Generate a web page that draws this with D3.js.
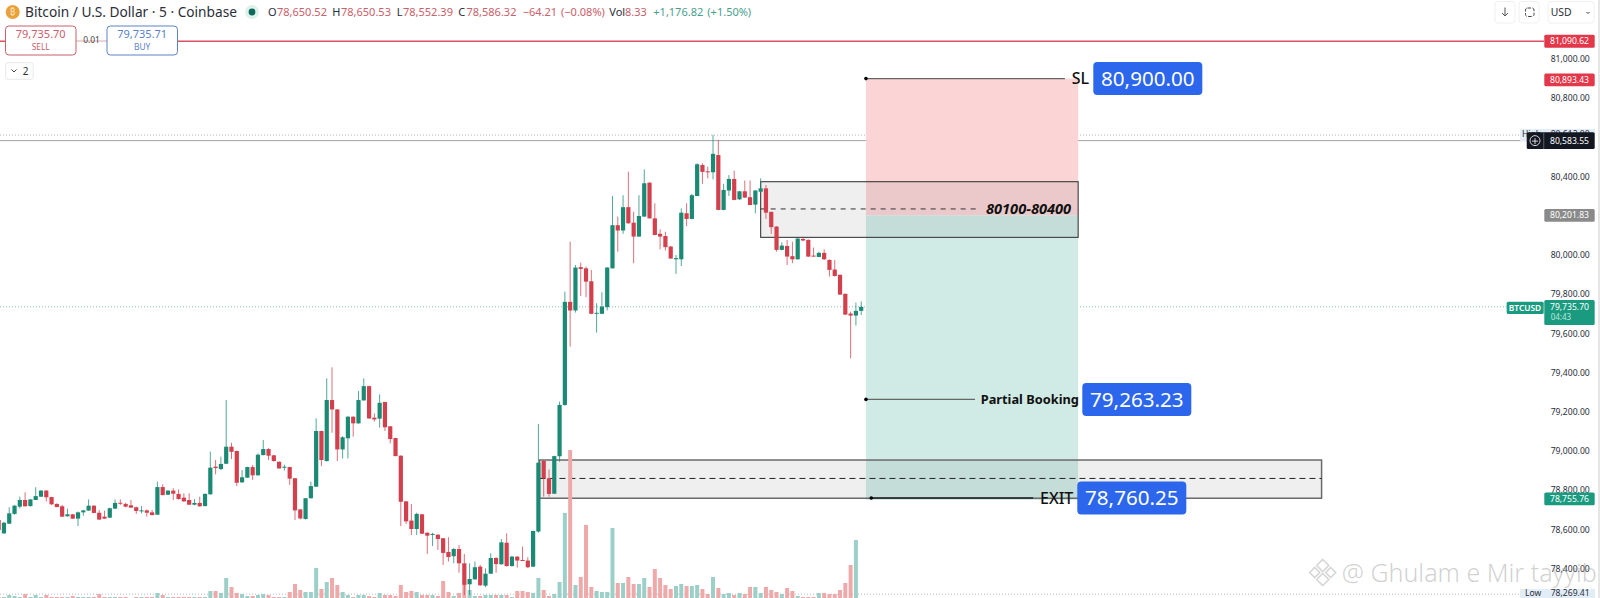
<!DOCTYPE html>
<html>
<head>
<meta charset="utf-8">
<script src="https://cdn.jsdelivr.net/npm/d3@7"></script>
<style>
  html, body { margin: 0; padding: 0; background: #fff; overflow: hidden; }
  svg { display: block; }
  text { font-family: "Noto Sans", sans-serif; }
</style>
</head>
<body>
<div id="chart"></div>
<script>
// 5 minute BTCUSD bars
var opens = [78648,
  78580,78629,78679,78716,78750,78719,78750,78767,78798,78765,
  78730,78718,78667,78677,78655,78687,78696,78721,78685,78665,
  78660,78706,78736,78730,78723,78713,78694,78697,78687,78675,
  78816,78777,78798,78781,78762,78750,78726,78735,78719,78779,
  78920,78908,78935,79022,79000,78840,78864,78918,78876,78979,
  79010,78978,78945,78915,78918,78861,78702,78653,78759,78818,
  79102,78949,79260,79212,79008,79065,79175,79141,79258,79331,
  79170,79165,79250,79126,79066,78976,78743,78645,78602,78677,
  78583,78572,78573,78555,78485,78463,78500,78427,78320,78345,
  78410,78313,78374,78454,78422,78532,78413,78461,78444,78441,
  78410,78589,78949,78861,78782,78973,79235,79761,79717,79938,
  79932,79866,79700,79700,79734,79932,80152,80125,80244,80165,
  80094,80196,80369,80187,80108,80097,80043,79978,79978,80213,
  80184,80301,80459,80427,80422,80510,80230,80329,80388,80284,
  80325,80295,80257,80323,80340,80220,80145,80026,80046,79994,
  79978,80082,80077,79997,79990,80011,79975,79926,79899,79802,
  79701,79691,79715];
var highs = [78656,
  78639,78713,78725,78767,78789,78755,78815,78801,78801,78767,
  78733,78725,78706,78679,78691,78699,78753,78723,78699,78696,
  78711,78753,78753,78736,78750,78716,78719,78702,78699,78844,
  78830,78799,78810,78804,78784,78784,78755,78767,78784,78997,
  78954,78971,79260,79042,79002,78903,78920,78929,78988,79056,
  79014,78980,78947,78930,78920,78862,78704,78760,78844,79167,
  79104,79371,79427,79214,79076,79178,79177,79306,79371,79333,
  79192,79289,79251,79127,79068,78978,78745,78730,78685,78679,
  78585,78583,78575,78556,78560,78505,78520,78475,78427,78436,
  78419,78401,78478,78458,78551,78580,78466,78464,78512,78458,
  78594,79138,78954,78906,78976,79252,79813,80068,79949,79961,
  79941,79924,79754,79810,79938,80301,80196,80305,80425,80221,
  80305,80437,80371,80264,80131,80119,80046,80000,80238,80264,
  80312,80468,80468,80451,80613,80587,80363,80408,80431,80327,
  80380,80380,80332,80391,80357,80221,80147,80065,80077,80068,
  80085,80094,80080,80038,80017,80029,79977,79975,79900,79803,
  79711,79757,79763];
var lows = [78588,
  78577,78628,78675,78707,78716,78716,78750,78765,78742,78725,
  78713,78663,78665,78653,78617,78670,78694,78682,78648,78653,
  78658,78704,78725,78713,78709,78679,78682,78665,78672,78673,
  78774,78775,78750,78752,78741,78725,78723,78716,78718,78777,
  78881,78903,78934,78959,78821,78838,78862,78852,78874,78978,
  78954,78945,78910,78900,78827,78648,78651,78650,78757,78816,
  78923,78945,79093,78949,78962,78962,79073,79139,79257,79165,
  79150,79119,79102,79039,78973,78617,78628,78571,78571,78577,
  78475,78515,78495,78419,78436,78427,78379,78265,78265,78344,
  78311,78305,78373,78379,78420,78410,78410,78405,78439,78403,
  78408,78583,78767,78767,78781,78945,79230,79533,79706,79791,
  79785,79698,79604,79698,79717,79931,80017,80108,80159,79958,
  80092,80194,80186,80101,80029,80023,79980,79904,79944,80148,
  80182,80300,80363,80391,80386,80228,80228,80301,80279,80281,
  80291,80254,80213,80322,80184,80108,80017,80024,79949,79958,
  79977,80070,79990,79990,79989,79975,79890,79890,79796,79694,
  79473,79640,79694];
var closes = [78597,
  78634,78682,78721,78750,78718,78753,78770,78798,78764,78728,
  78714,78665,78677,78655,78687,78697,78721,78684,78650,78655,
  78708,78735,78731,78716,78711,78694,78697,78685,78673,78816,
  78775,78798,78782,78755,78743,78726,78735,78718,78781,78915,
  78913,78934,79022,78996,78838,78866,78918,78876,78981,79010,
  78976,78949,78911,78920,78859,78697,78656,78759,78821,79102,
  78954,79260,79212,79008,79070,79175,79141,79260,79331,79166,
  79161,79246,79121,79061,78974,78741,78641,78602,78679,78578,
  78568,78577,78551,78480,78459,78500,78427,78317,78347,78407,
  78315,78374,78454,78423,78534,78413,78461,78441,78439,78407,
  78592,78940,78861,78781,78974,79235,79761,79717,79936,79929,
  79864,79700,79705,79737,79936,80152,80125,80244,80162,80094,
  80199,80366,80187,80102,80094,80040,79982,79984,80216,80184,
  80305,80463,80424,80422,80516,80230,80332,80388,80281,80325,
  80293,80255,80329,80340,80216,80142,80026,80048,79992,79978,
  80084,80074,79992,79992,80011,79978,79924,79893,79798,79696,
  79691,79715,79735.7];
var volumes = [3,
  3,5,4,3,6,3,5,3,5,3,
  3,3,3,4,3,3,3,3,6,3,
  3,3,3,3,2,3,3,3,3,7,
  5,3,3,3,3,3,3,3,3,9,
  9,7,22,13,7,6,4,4,5,6,
  5,3,3,3,8,16,10,8,8,32,
  11,18,22,15,8,5,3,5,5,4,
  3,7,5,5,4,15,8,9,8,5,
  5,5,4,19,8,4,7,15,10,4,
  4,5,5,5,5,5,3,9,9,8,
  7,22,10,4,6,18,87,150,15,23,
  75,13,9,8,8,72,17,17,23,16,
  16,22,13,31,22,15,11,14,16,14,
  14,15,11,6,23,12,6,7,5,7,
  6,13,13,7,13,10,8,6,12,9,
  4,3,3,3,7,7,6,6,10,17,
  35,60,2];

var priceTicks = [81000,80800,80400,80000,79800,79600,79400,79200,79000,78800,78600,78400];

// annotations, prices as on the chart, "from/to" in bar numbers
var slPrice = 80900, entryPrice = 80201.83, partialPrice = 79263.23, exitPrice = 78760.25;
var upperZone = [80090, 80374], upperMid = 80235;
var lowerZone = [78759, 78954], lowerMid = 78860;
var sellLine = 81090.62, highLine = 80612, crossLine = 80583.55, lastPrice = 79735.70, lowLine = 78269.41;

// 基本設定
var w = 1600, h = 598;
var green = "#1b8a74", red = "#d23f4d";
var volGreen = "#9dcfc9", volRed = "#eeaaaa";
var bodyW = 4.2, volW = 4;

var x = d3.scaleLinear().domain([0, opens.length - 1]).range([-1.35, 861.2]);
var y = d3.scaleLinear().domain([78400, 81000]).range([568.6, 59]);
var v = d3.scaleLinear().domain([0, 150]).range([600, 450]);
var fmt = d3.format(",.2f");

var svg = d3.select("#chart").append("svg").attr("width", w).attr("height", h);
svg.append("rect").attr("width", w).attr("height", h).attr("fill", "#fff");

// 水平線
function hline(price, x1, x2, color, width, dash) {
  svg.append("line")
    .attr("x1", x1).attr("x2", x2)
    .attr("y1", y(price)).attr("y2", y(price))
    .attr("stroke", color).attr("stroke-width", width)
    .attr("stroke-dasharray", dash || null);
}
hline(sellLine, 0, 1544, "#d9535f", 1.5);
hline(highLine, 0, 1522, "#aeb4b8", 1, "1 2");
hline(crossLine, 0, 1527, "#a3a3a3", 1);
hline(lastPrice, 0, 1507, "#86b9b0", 1, "1 2");
hline(lowLine, 0, 1520, "#b5bbbf", 1, "1 2");

// リスク/リワード
var riskFrom = x(163.9), riskTo = x(204);
svg.append("rect").attr("x", riskFrom).attr("y", y(slPrice)).attr("width", riskTo - riskFrom)
  .attr("height", y(entryPrice) - y(slPrice)).attr("fill", "#fbd5d6");
svg.append("rect").attr("x", riskFrom).attr("y", y(entryPrice)).attr("width", riskTo - riskFrom)
  .attr("height", y(exitPrice) - y(entryPrice) + 2).attr("fill", "#d0ebe6");

// ゾーン
function zone(range, mid, from, to, stroke, sw) {
  var x1 = x(from), x2 = x(to), top = y(range[1]), bot = y(range[0]);
  svg.append("rect").attr("x", x1).attr("y", top).attr("width", x2 - x1).attr("height", bot - top)
    .attr("fill", "rgba(100,100,100,0.1)").attr("stroke", stroke).attr("stroke-width", sw);
  return { x1: x1, x2: x2, midY: y(mid) };
}
var zu = zone(upperZone, upperMid, 144, 204, "#3c3c3c", 1.1);
var zl = zone(lowerZone, lowerMid, 102.2, 250, "#6a6a6a", 1.5);
svg.append("line").attr("x1", zu.x1).attr("x2", x(185)).attr("y1", zu.midY).attr("y2", zu.midY)
  .attr("stroke", "#333").attr("stroke-width", 1).attr("stroke-dasharray", "5 5");
svg.append("line").attr("x1", zl.x1).attr("x2", zl.x2).attr("y1", zl.midY).attr("y2", zl.midY)
  .attr("stroke", "#222").attr("stroke-width", 1).attr("stroke-dasharray", "6 4");

var bars = d3.range(opens.length);

// 出来高
svg.append("g").selectAll("rect").data(bars).enter().append("rect")
  .attr("x", function(i) { return x(i) - volW / 2; })
  .attr("y", function(i) { return v(volumes[i]); })
  .attr("width", volW)
  .attr("height", function(i) { return v(0) - v(volumes[i]); })
  .attr("fill", function(i) { return closes[i] >= opens[i] ? volGreen : volRed; });

// ローソク足
var candle = svg.append("g").selectAll("g").data(bars).enter().append("g");
candle.append("line")
  .attr("x1", function(i) { return x(i); })
  .attr("x2", function(i) { return x(i); })
  .attr("y1", function(i) { return y(highs[i]); })
  .attr("y2", function(i) { return y(lows[i]); })
  .attr("stroke", function(i) { return closes[i] >= opens[i] ? green : red; })
  .attr("stroke-opacity", 0.75)
  .attr("stroke-width", 1);
candle.append("rect")
  .attr("x", function(i) { return x(i) - bodyW / 2; })
  .attr("y", function(i) { return y(Math.max(opens[i], closes[i])); })
  .attr("width", bodyW)
  .attr("height", function(i) { return Math.max(1, Math.abs(y(opens[i]) - y(closes[i]))); })
  .attr("fill", function(i) { return closes[i] >= opens[i] ? green : red; });

// 価格軸
var axis = d3.axisRight(y).tickValues(priceTicks).tickSize(0).tickPadding(0).tickFormat(fmt);
var axisG = svg.append("g").attr("transform", "translate(1550.7,0)").call(axis);
axisG.select(".domain").remove();
axisG.selectAll("text").attr("font-size", 8.6).attr("fill", "#2a2e39").attr("font-family", "Noto Sans");
svg.append("rect").attr("x", 1598).attr("y", 0).attr("width", 2).attr("height", h).attr("fill", "#e6e6e6");

// 価格ラベル
function priceTag(price, text, color, txt) {
  var cy = y(price);
  svg.append("rect").attr("x", 1544.3).attr("y", cy - 6.4).attr("width", 50.4).attr("height", 12.8).attr("rx", 1.5).attr("fill", color);
  svg.append("text").attr("x", 1569.5).attr("y", cy).attr("dy", ".34em").attr("text-anchor", "middle")
    .attr("font-size", 8.6).attr("fill", txt || "#fff").text(text);
}
priceTag(sellLine, fmt(sellLine), "#e3374a");
priceTag(80893.43, fmt(80893.43), "#e3374a");
priceTag(entryPrice, fmt(entryPrice), "#8a8a8a");
priceTag(78755.76, fmt(78755.76), "#1a9b80");

// High
svg.append("rect").attr("x", 1520).attr("y", 129).attr("width", 75).attr("height", 12).attr("fill", "#e3edf8");
svg.append("text").attr("x", 1522).attr("y", 137).attr("font-size", 8.6).attr("fill", "#2a2e39").text("High");
svg.append("text").attr("x", 1550.7).attr("y", 136.5).attr("font-size", 8.6).attr("fill", "#2a2e39").text(fmt(highLine));
svg.append("rect").attr("x", 1526.7).attr("y", y(crossLine) - 8.3).attr("width", 68).attr("height", 16.6).attr("rx", 1.5).attr("fill", "#131722");
svg.append("rect").attr("x", 1543.4).attr("y", y(crossLine) - 8.3).attr("width", 0.8).attr("height", 16.6).attr("fill", "#6a6f7a");
svg.append("circle").attr("cx", 1535).attr("cy", y(crossLine)).attr("r", 5).attr("fill", "none").attr("stroke", "#fff").attr("stroke-width", 0.8);
svg.append("path").attr("d", "M1532,141.1H1538M1535,138.1V144.1").attr("stroke", "#fff").attr("stroke-width", 0.8);
svg.append("text").attr("x", 1569.5).attr("y", y(crossLine)).attr("dy", ".34em").attr("text-anchor", "middle")
  .attr("font-size", 8.6).attr("fill", "#fff").text(fmt(crossLine));

// 現在値
svg.append("rect").attr("x", 1506.7).attr("y", 301.7).attr("width", 37).attr("height", 12.4).attr("rx", 1.5).attr("fill", "#1a9b80");
svg.append("text").attr("x", 1525).attr("y", 308).attr("dy", ".34em").attr("text-anchor", "middle")
  .attr("font-size", 8.4).attr("font-weight", 600).attr("fill", "#fff").text("BTCUSD");
svg.append("rect").attr("x", 1544.3).attr("y", 300).attr("width", 50.4).attr("height", 25).attr("rx", 1.5).attr("fill", "#1a9b80");
svg.append("text").attr("x", 1569.5).attr("y", 307).attr("dy", ".34em").attr("text-anchor", "middle")
  .attr("font-size", 8.6).attr("fill", "#fff").text(fmt(lastPrice));
svg.append("text").attr("x", 1550.7).attr("y", 317.5).attr("dy", ".34em")
  .attr("font-size", 8).attr("fill", "#bfe6de").text("04:43");

// Low
svg.append("rect").attr("x", 1520).attr("y", 589).attr("width", 75).attr("height", 9).attr("fill", "#e3edf8");
svg.append("text").attr("x", 1525).attr("y", 596).attr("font-size", 8.6).attr("fill", "#2a2e39").text("Low");
svg.append("text").attr("x", 1550.7).attr("y", 596).attr("font-size", 8.6).attr("fill", "#2a2e39").text(fmt(lowLine));

// 注釈ライン
function marker(price, fromBar, toBar, dark) {
  var cy = y(price);
  svg.append("line").attr("x1", x(fromBar)).attr("x2", x(toBar)).attr("y1", cy).attr("y2", cy)
    .attr("stroke", dark ? "#222" : "#666").attr("stroke-width", 1.3);
  svg.append("circle").attr("cx", x(fromBar)).attr("cy", cy).attr("r", 1.8).attr("fill", "#000");
}
marker(slPrice, 163.9, 201.5);
marker(partialPrice, 163.9, 184.5);
marker(exitPrice, 164.9, 195.5, true);

function badge(price, left, text) {
  var cy = y(price);
  svg.append("rect").attr("x", left).attr("y", cy - 16.5).attr("width", 109).attr("height", 33).attr("rx", 4).attr("fill", "#2b66ec");
  svg.append("text").attr("x", left + 54.5).attr("y", cy).attr("dy", ".35em").attr("text-anchor", "middle")
    .attr("font-size", 20.6).attr("fill", "#fff").text(text);
}
badge(slPrice, 1093.3, fmt(slPrice));
badge(partialPrice, 1082.3, fmt(partialPrice));
badge(exitPrice, 1077.3, fmt(exitPrice));

function note(price, xx, text, size, extra) {
  var t = svg.append("text").attr("x", xx).attr("y", y(price)).attr("dy", ".35em")
    .attr("font-size", size).attr("fill", "#111").text(text);
  if (extra) extra(t);
}
note(slPrice, 1071.7, "SL", 16, function(t) { t.attr("font-weight", 500); });
note(partialPrice, 980.7, "Partial Booking", 12.8, function(t) { t.attr("font-weight", 700); });
note(exitPrice, 1040, "EXIT", 16, function(t) { t.attr("font-weight", 500); });
note(upperMid, 986, "80100-80400", 14.6, function(t) {
  t.attr("font-weight", 700).attr("font-style", "italic").attr("font-family", "Liberation Sans");
});

// ヘッダー
svg.append("circle").attr("cx", 12.7).attr("cy", 12).attr("r", 7).attr("fill", "#e9a13b");
svg.append("text").attr("x", 12.7).attr("y", 12).attr("dy", ".35em").attr("text-anchor", "middle")
  .attr("font-size", 9).attr("fill", "#fbe6c4").text("₿");
svg.append("text").attr("x", 25).attr("y", 12).attr("dy", ".35em").attr("font-size", 13.7).attr("fill", "#2a2e39")
  .text("Bitcoin / U.S. Dollar · 5 · Coinbase");
svg.append("circle").attr("cx", 252).attr("cy", 12).attr("r", 7).attr("fill", "#dff1ed");
svg.append("circle").attr("cx", 252).attr("cy", 12).attr("r", 3.4).attr("fill", "#0d6a5a");

var headerRed = "#c9606b", headerGreen = "#4a9e8e", headerDark = "#2a2e39";
var header = [
  ["O", 268, headerDark], ["78,650.52", 277, headerRed],
  ["H", 332.3, headerDark], ["78,650.53", 341, headerRed],
  ["L", 396.7, headerDark], ["78,552.39", 403, headerRed],
  ["C", 458.3, headerDark], ["78,586.32", 466.5, headerRed],
  ["−64.21", 522.7, headerRed], ["(−0.08%)", 561, headerRed],
  ["Vol", 609.3, headerDark], ["8.33", 625, headerRed],
  ["+1,176.82", 653.3, headerGreen], ["(+1.50%)", 707.3, headerGreen]
];
header.forEach(function(d) {
  svg.append("text").attr("x", d[1]).attr("y", 12).attr("dy", ".35em").attr("font-size", 11).attr("fill", d[2]).text(d[0]);
});

// SELL / BUY
function tradeBox(left, color, price, label) {
  svg.append("rect").attr("x", left).attr("y", 26).attr("width", 70.5).attr("height", 29).attr("rx", 3.5)
    .attr("fill", "#fff").attr("stroke", color).attr("stroke-width", 1);
  svg.append("text").attr("x", left + 35.2).attr("y", 34.5).attr("dy", ".35em").attr("text-anchor", "middle")
    .attr("font-size", 11).attr("fill", color).text(price);
  svg.append("text").attr("x", left + 35.2).attr("y", 46.7).attr("dy", ".35em").attr("text-anchor", "middle")
    .attr("font-size", 8.4).attr("fill", color).text(label);
}
svg.append("rect").attr("x", 76).attr("y", 34).attr("width", 31).attr("height", 14).attr("fill", "#fff");
svg.append("line").attr("x1", 76).attr("x2", 107).attr("y1", 41).attr("y2", 41).attr("stroke", "#e3a6ab").attr("stroke-width", 1);
tradeBox(5.5, "#c9606b", "79,735.70", "SELL");
tradeBox(107, "#5b82c4", "79,735.71", "BUY");
svg.append("text").attr("x", 91.5).attr("y", 40).attr("dy", ".35em").attr("text-anchor", "middle")
  .attr("font-size", 8.4).attr("fill", "#444").text("0.01");

svg.append("rect").attr("x", 5.7).attr("y", 62.7).attr("width", 27.5).attr("height", 16.6).attr("rx", 2)
  .attr("fill", "#fff").attr("stroke", "#e8e8e8");
svg.append("path").attr("d", "M11.5,69.5L14,72L16.5,69.5").attr("fill", "none").attr("stroke", "#444").attr("stroke-width", 1);
svg.append("text").attr("x", 25.7).attr("y", 71).attr("dy", ".35em").attr("text-anchor", "middle")
  .attr("font-size", 10).attr("fill", "#2a2e39").text("2");

// 右上ボタン
[[1495, 20], [1519, 20], [1548, 46]].forEach(function(b) {
  svg.append("rect").attr("x", b[0]).attr("y", 1.5).attr("width", b[1]).attr("height", 21.5).attr("rx", 3)
    .attr("fill", "#fff").attr("stroke", "#f0f0f0");
});
svg.append("path").attr("d", "M1505,7.5V16M1502,13L1505,16L1508,13").attr("fill", "none").attr("stroke", "#555").attr("stroke-width", 1);
svg.append("rect").attr("x", 1525.5).attr("y", 8).attr("width", 8.5).attr("height", 8.5).attr("rx", 2)
  .attr("fill", "none").attr("stroke", "#444").attr("stroke-width", 1).attr("stroke-dasharray", "3.5 1.5");
svg.append("text").attr("x", 1550.7).attr("y", 12).attr("dy", ".35em").attr("font-size", 10.4).attr("fill", "#2a2e39").text("USD");
svg.append("path").attr("d", "M1586.5,12L1588,13.5L1589.5,12").attr("fill", "none").attr("stroke", "#444").attr("stroke-width", 1);

// 透かし
var wm = svg.append("g").attr("transform", "translate(1322.7,572.5)").attr("fill", "none").attr("stroke", "#c9c9c9").attr("stroke-width", 1.6).attr("opacity", 0.75);
wm.append("path").attr("d", "M0,-13L6,-7L0,-1L-6,-7Z");
wm.append("path").attr("d", "M0,13L6,7L0,1L-6,7Z");
wm.append("path").attr("d", "M-13,0L-8,-5L-3,0L-8,5Z");
wm.append("path").attr("d", "M13,0L8,-5L3,0L8,5Z");
svg.append("text").attr("x", 1341.7).attr("y", 573).attr("dy", ".35em").attr("font-size", 25)
  .attr("font-weight", 300).attr("fill", "#8f8f8f").attr("fill-opacity", 0.42).attr("font-family", "Open Sans")
  .text("@ Ghulam e Mir tayyib");
</script>
</body>
</html>
